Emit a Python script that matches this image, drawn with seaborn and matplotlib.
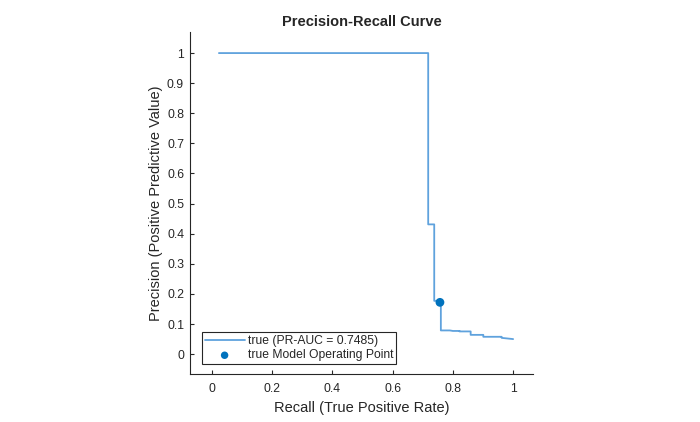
import matplotlib
matplotlib.use("Agg")
import matplotlib.pyplot as plt
import seaborn as sns
import pandas as pd

recall = [0.023, 0.718, 0.718, 0.738, 0.738, 0.760, 0.760, 0.790, 0.800, 0.822, 0.822,
          0.859, 0.859, 0.901, 0.901, 0.962, 0.962, 1.000]
precision = [1.000, 1.000, 0.431, 0.431, 0.177, 0.177, 0.0787, 0.0787, 0.077, 0.077, 0.0754,
             0.0754, 0.064, 0.064, 0.0576, 0.0576, 0.054, 0.050]
op_recall = [0.757]
op_precision = [0.172]
x_ticks = [0, 0.2, 0.4, 0.6, 0.8, 1.0]
x_tick_labels = ["0", "0.2", "0.4", "0.6", "0.8", "1"]
y_ticks = [0, 0.1, 0.2, 0.3, 0.4, 0.5, 0.6, 0.7, 0.8, 0.9, 1.0]
y_tick_labels = ["0", "0.1", "0.2", "0.3", "0.4", "0.5", "0.6", "0.7", "0.8", "0.9", "1"]

sns.set_theme(style="white")
plt.rcParams['font.family'] = ['Liberation Sans', 'DejaVu Sans']

curve = pd.DataFrame({"Recall": recall, "Precision": precision})
op = pd.DataFrame({"Recall": op_recall, "Precision": op_precision})

fig = plt.figure(figsize=(7, 4.22), dpi=100)
ax = fig.add_axes([190/700, 1-374/422, 343/700, 342/422])

sns.lineplot(data=curve, x="Recall", y="Precision", ax=ax, color="#5fa2dd",
             linewidth=1.3, sort=False, estimator=None, label="true (PR-AUC = 0.7485)")
sns.scatterplot(data=op, x="Recall", y="Precision", ax=ax, color="#0072BD", s=40,
                edgecolor="none", label="true Model Operating Point", zorder=5)

ax.set_xlim(-0.073, 1.066)
ax.set_ylim(-0.066, 1.07)
ax.set_xticks(x_ticks)
ax.set_xticklabels(x_tick_labels)
ax.set_yticks(y_ticks)
ax.set_yticklabels(y_tick_labels)
ax.tick_params(direction="in", length=3, width=0.8, colors="#262626", labelsize=8.8,
               bottom=True, left=True)
ax.tick_params(axis="x", pad=6.5)
ax.tick_params(axis="y", pad=4.3)
for s in ["top", "right"]:
    ax.spines[s].set_visible(False)
for s in ["left", "bottom"]:
    ax.spines[s].set_color("#262626")
    ax.spines[s].set_linewidth(0.8)

ax.set_xlabel("Recall (True Positive Rate)", fontsize=10.5, color="#262626", labelpad=4.5)
ax.set_ylabel("Precision (Positive Predictive Value)", fontsize=10.5, color="#262626", labelpad=3)
ax.set_title("Precision-Recall Curve", fontsize=10.5, fontweight="bold", color="#262626", pad=4)

leg = ax.legend(loc="lower left", bbox_to_anchor=(0.035, 0.029), fontsize=8.7, frameon=True,
                fancybox=False, edgecolor="#262626", framealpha=1, borderpad=0.22,
                handlelength=3.3, handletextpad=0.25, labelspacing=0.2, borderaxespad=0,
                markerscale=0.85)
leg.get_frame().set_linewidth(0.8)

fig.savefig("out.png", dpi=100)
